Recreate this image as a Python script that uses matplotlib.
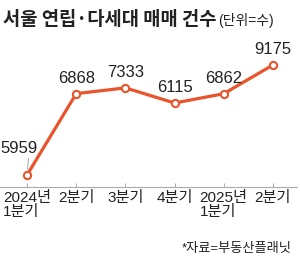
import numpy as np
import matplotlib
matplotlib.use("Agg")
import matplotlib.pyplot as plt
from matplotlib import font_manager as fm

names = sorted({f.name for f in fm.fontManager.ttflist})
narrow = 'Liberation Sans Narrow' if 'Liberation Sans Narrow' in names else 'Liberation Sans'
FAM = [narrow, 'Noto Sans CJK KR']
plt.rcParams['font.family'] = FAM

categories = ["2024년\n1분기", "2분기", "3분기", "4분기", "2025년\n1분기", "2분기"]
values = [5959, 6868, 7333, 6115, 6862, 9175]
value_labels = ["5959", "6868", "7333", "6115", "6862", "9175"]
title = "서울 연립·다세대 매매 건수"
unit = "(단위=수)"
source = "*자료=부동산플래닛"

ORANGE = "#E8542B"

# stylized axis: values below the break are stretched (as in the original graphic)
BRK, K = 6100.0, 41.0
def fwd(v):
    v = np.asarray(v, dtype=float)
    return np.where(v >= BRK, v, BRK - (BRK - v) * K)
def inv(g):
    g = np.asarray(g, dtype=float)
    return np.where(g >= BRK, g, BRK - (BRK - g) / K)

fig = plt.figure(figsize=(3.0, 2.6), dpi=100)
ax = fig.add_axes([0.0, (260 - 187) / 260, 0.99, (187 - 40) / 260])
ax.set_yscale('function', functions=(fwd, inv))
x = np.arange(len(values))
ax.plot(x, values, color=ORANGE, lw=2.3, marker='o', ms=5.2, mfc='white',
        mec=ORANGE, mew=1.5, zorder=3, solid_capstyle='round')
ax.set_xlim(-0.55, 5.49)
ax.set_ylim(5935.4, 11187)

for i, (v, lab) in enumerate(zip(values, value_labels)):
    if i == 0:
        ax.annotate(lab, (i, v), xytext=(-5.5, 14), textcoords='offset points',
                    ha='center', va='bottom', fontsize=12, color='#222222',
                    arrowprops=dict(arrowstyle='-', color='#999999', lw=0.6,
                                    shrinkA=0, shrinkB=4.5,
                                    relpos=(0.75, 0.0)))
    else:
        ax.annotate(lab, (i, v), xytext=(0, 5.5), textcoords='offset points',
                    ha='center', va='bottom', fontsize=12, color='#222222')

for s in ['left', 'right', 'top']:
    ax.spines[s].set_visible(False)
ax.spines['bottom'].set_color('#aaaaaa')
ax.spines['bottom'].set_linewidth(0.8)
ax.set_yticks([])
ax.set_xticks(x)
ax.set_xticklabels(categories, fontsize=11, color='#222222', linespacing=1.0,
                   multialignment='left')
ax.tick_params(axis='x', direction='in', length=3, width=0.7, color='#aaaaaa', pad=3)

t1 = fig.text(3 / 300, 1 - 25 / 260, title, fontsize=13.5, fontweight='bold',
              color='#222222', ha='left', va='baseline',
              family=['Noto Sans CJK KR'])
fig.canvas.draw()
bb = t1.get_window_extent()
fig.text(bb.x1 / 300 + 0.006, 1 - 25 / 260, unit, fontsize=10, color='#222222',
         ha='left', va='baseline')
fig.text(292 / 300, 1 - 252 / 260, source, fontsize=9.5, color='#222222',
         ha='right', va='baseline')

fig.savefig("out.png", dpi=100)
